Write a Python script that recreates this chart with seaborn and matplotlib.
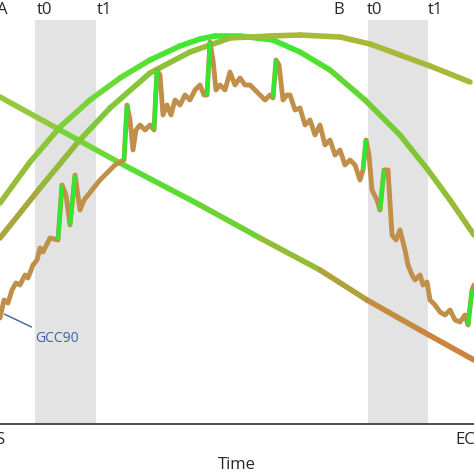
import matplotlib
matplotlib.use("Agg")
import matplotlib.pyplot as plt
import seaborn as sns
import numpy as np
import pandas as pd
from matplotlib.collections import LineCollection
from matplotlib.colors import LinearSegmentedColormap

sns.set_style("white")
plt.rcParams['font.family'] = ['Open Sans', 'DejaVu Sans']

# Data (x = time in px units, y = value measured downward from top)
line_x = [0, 60, 120, 200, 260, 320, 367, 420, 474]
line_y = [97, 130, 163, 205, 238, 270, 300, 330, 360]

arch1_x = [0, 30, 60, 90, 120, 150, 180, 200, 215, 240, 273, 300, 330, 365, 400, 428, 450, 474]
arch1_y = [203, 162, 127, 100, 78, 60, 46, 39, 36, 36, 40, 52, 70, 100, 135, 170, 200, 235]

arch2_x = [0, 40, 78, 110, 150, 190, 230, 270, 300, 340, 370, 400, 430, 470]
arch2_y = [238, 188, 142, 108, 73, 52, 38, 36, 35, 37, 44, 55, 66, 82]

gcc_x = [0,4,8,12,16,20,25,28,33,37,40,43,50,58,62,66,70,75,80,84,88,92,96,100,105,110,115,120,124,127,130,133,136,140,145,150,154,157,160,163,167,171,175,180,185,190,195,200,204,207,210,213,216,220,225,230,235,240,245,250,255,260,265,270,273,276,279,283,287,290,295,300,305,310,315,320,325,330,335,340,345,350,355,360,363,366,369,372,377,380,384,388,392,396,400,405,408,412,415,420,423,427,430,435,440,445,450,455,460,465,468,472,474]
gcc_y = [318,300,303,290,283,285,275,278,265,260,248,252,238,240,185,195,225,175,210,200,195,190,185,180,175,170,165,162,160,105,120,150,130,125,130,125,130,70,75,115,105,115,100,105,95,100,90,85,95,95,42,60,90,85,90,72,85,78,85,85,90,95,100,95,98,60,65,100,95,95,110,108,125,120,135,125,145,140,155,150,165,160,165,180,170,140,155,190,200,210,170,170,235,240,230,250,265,275,280,275,285,282,300,305,312,315,310,320,322,315,325,290,285]

top_labels = ["A", "t0", "t1", "B", "t0", "t1"]
top_label_x = [-3, 37, 97, 333, 367, 428]
bottom_labels = ["S", "EC"]
bottom_label_x = [-5, 455]

fig = plt.figure(figsize=(4.74, 4.74), dpi=100)
ax = fig.add_axes([0, 50/474, 1, 424/474])
ax.set_xlim(0, 474)
ax.set_ylim(424, 0)

for a, b in [(35, 96), (368, 428)]:
    ax.axvspan(a, b, ymin=0, ymax=(424-20)/424, color="#e3e3e3", lw=0, zorder=0)

def grad_line(x, y, colors, lw=4, z=2):
    x = np.asarray(x, float); y = np.asarray(y, float)
    pts = np.column_stack([x, y]).reshape(-1, 1, 2)
    segs = np.concatenate([pts[:-1], pts[1:]], axis=1)
    cmap = LinearSegmentedColormap.from_list("c", colors)
    t = (x[:-1] + x[1:]) / 2 / 474
    lc = LineCollection(segs, colors=cmap(t), linewidths=lw, capstyle="round", joinstyle="round", zorder=z)
    ax.add_collection(lc)

grad_line(line_x, line_y, ["#a8c040", "#6cd838", "#50e030", "#90c038", "#c09040", "#d08040"])
grad_line(arch1_x, arch1_y, ["#a0b838", "#70d838", "#40e830", "#40e830", "#70d030", "#a0b838"])
grad_line(arch2_x, arch2_y, ["#b0a040", "#80c838", "#90c038", "#a8b838", "#a8b838", "#a8b838"])

df = pd.DataFrame({"x": gcc_x, "y": gcc_y})
sns.lineplot(data=df, x="x", y="y", ax=ax, color="#c0904a", lw=3.5, sort=False, zorder=3)
gx = np.asarray(gcc_x, float); gy = np.asarray(gcc_y, float)
segs = [[(gx[i], gy[i]), (gx[i+1], gy[i+1])] for i in range(len(gx)-1) if gy[i+1] - gy[i] < -25]
ax.add_collection(LineCollection(segs, colors="#30e830", linewidths=3, zorder=4))

ax.annotate("GCC90", xy=(2, 313), xytext=(35, 339), color="#4060a0", fontsize=10,
            va="center", ha="left", arrowprops=dict(arrowstyle="-", color="#4060a0", lw=1))

for s, x in zip(top_labels, top_label_x):
    ax.text(x, 10, s, fontsize=12, ha="left", va="center", clip_on=False)
for s, x in zip(bottom_labels, bottom_label_x):
    ax.text(x, 440, s, fontsize=12, ha="left", va="center", clip_on=False)
ax.text(237, 465, "Time", fontsize=12, ha="center", va="center", clip_on=False)

ax.set_xlabel(""); ax.set_ylabel("")
ax.set_xticks([]); ax.set_yticks([])
for sp in ["top", "left", "right"]:
    ax.spines[sp].set_visible(False)
ax.spines["bottom"].set_color("#303030")
ax.spines["bottom"].set_linewidth(1.2)

fig.savefig("out.png", dpi=100)
